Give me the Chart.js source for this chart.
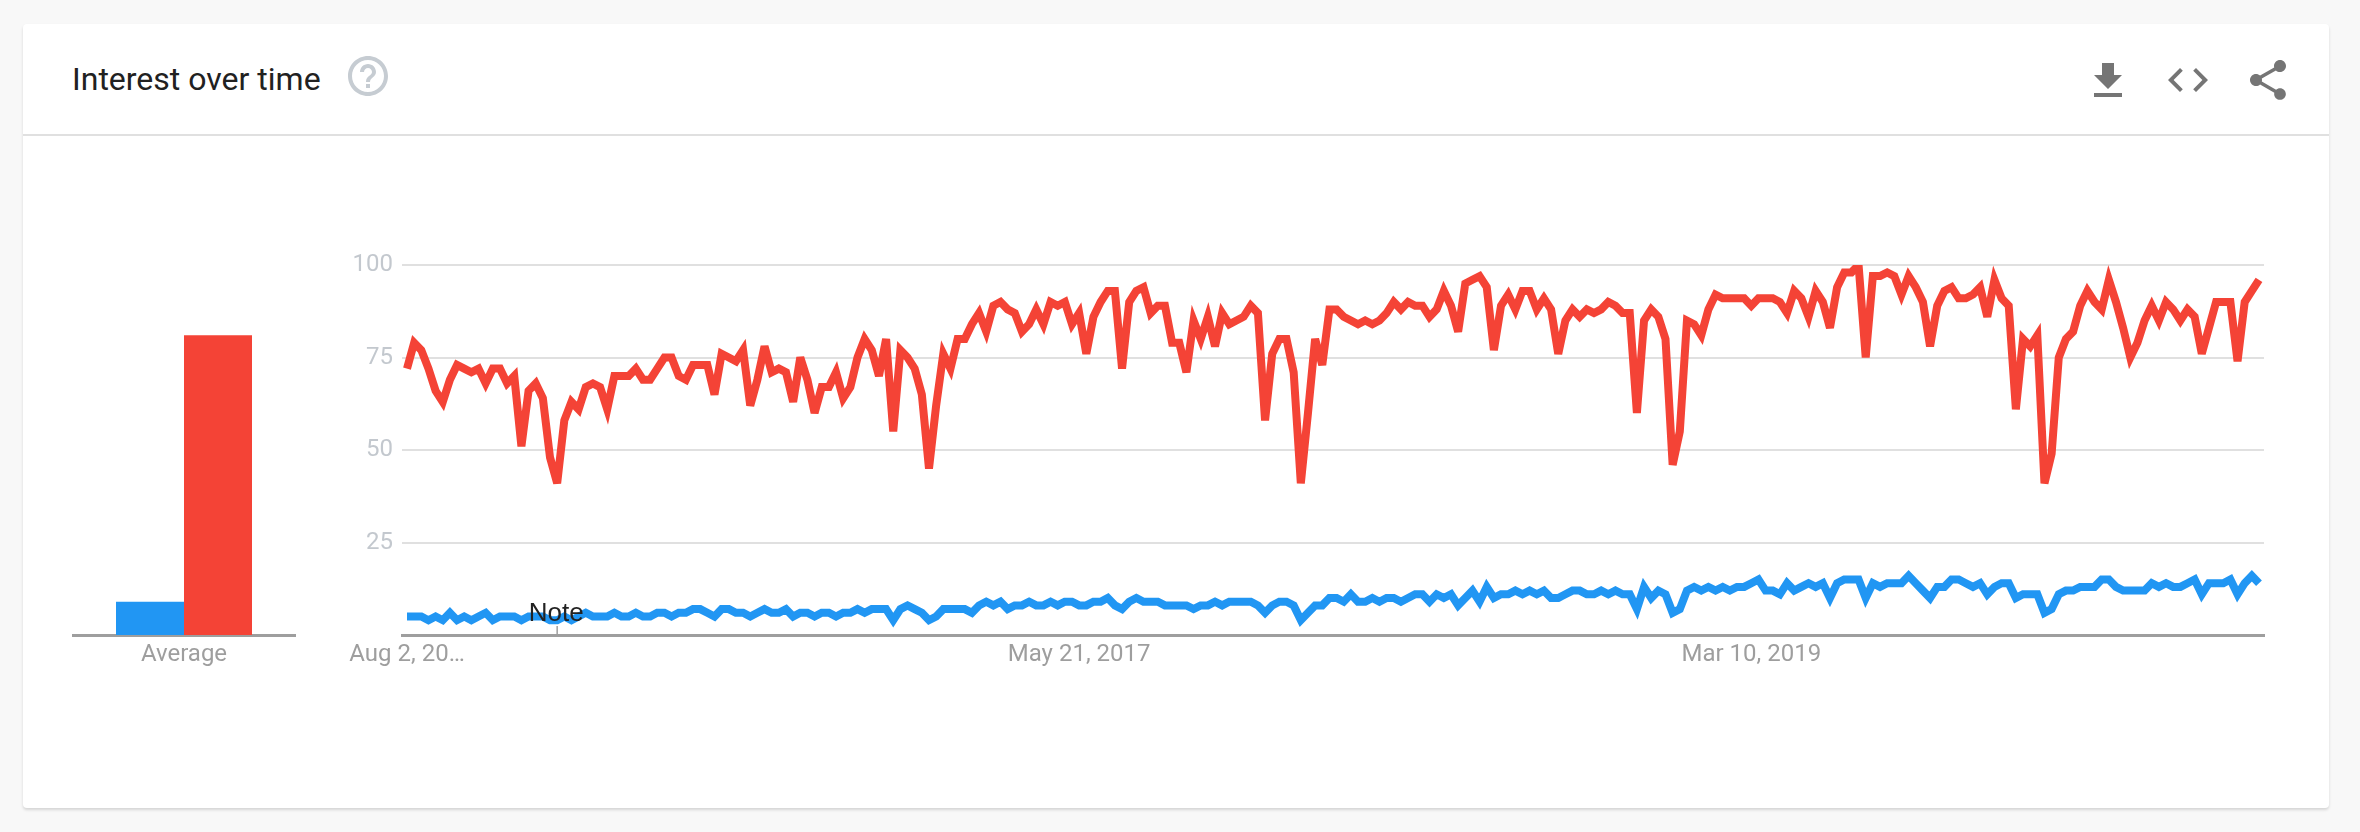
<!DOCTYPE html>
<html><head><meta charset="utf-8">
<style>
html,body{margin:0;padding:0;width:2360px;height:832px;overflow:hidden;background:#f8f8f8;font-family:Roboto,sans-serif}
#card{position:absolute;left:23px;top:24px;width:2306px;height:784px;background:#fff;border-radius:4px;box-shadow:0 2px 3px rgba(0,0,0,.14)}
#sep{position:absolute;left:23px;top:134px;width:2306px;height:2px;background:#e0e0e0}
#title{position:absolute;left:72px;top:60px;font-size:32px;line-height:38px;color:#212121;white-space:nowrap}
svg{position:absolute;fill:#757575}
#barWrap{position:absolute;left:72px;top:200px;width:224px;height:500px}
#lineWrap{position:absolute;left:300px;top:200px;width:2000px;height:500px}
</style>
<script src="https://cdn.jsdelivr.net/npm/chart.js@4"></script>
</head><body>
<div id="card"></div><div id="sep"></div>
<div id="title">Interest over time</div>
<svg style="left:344px;top:52px;fill:#c6ccd2" width="48" height="48" viewBox="0 0 24 24"><path d="M11 18h2v-2h-2v2zm1-16C6.48 2 2 6.48 2 12s4.48 10 10 10 10-4.48 10-10S17.52 2 12 2zm0 18c-4.41 0-8-3.59-8-8s3.59-8 8-8 8 3.59 8 8-3.59 8-8 8zm0-14c-2.21 0-4 1.79-4 4h2c0-1.1.9-2 2-2s2 .9 2 2c0 2-3 1.75-3 5h2c0-2.25 3-2.5 3-5 0-2.21-1.79-4-4-4z"/></svg>
<svg style="left:2084px;top:57px" width="48" height="48" viewBox="0 0 24 24"><path d="M19 9h-4V3H9v6H5l7 7 7-7zM5 18v2h14v-2H5z"/></svg>
<svg style="left:2164px;top:56px" width="48" height="48" viewBox="0 0 24 24"><path d="M9.4 16.6L4.8 12l4.6-4.6L8 6l-6 6 6 6 1.4-1.4zm5.2 0l4.6-4.6-4.6-4.6L16 6l6 6-6 6-1.4-1.4z"/></svg>
<svg style="left:2244px;top:56px" width="48" height="48" viewBox="0 0 24 24"><path d="M18 16.08c-.76 0-1.44.3-1.96.77L8.91 12.7c.05-.23.09-.46.09-.7s-.04-.47-.09-.7l7.05-4.11c.54.5 1.25.81 2.04.81 1.66 0 3-1.34 3-3s-1.34-3-3-3-3 1.34-3 3c0 .24.04.47.09.7L8.04 9.81C7.5 9.31 6.79 9 6 9c-1.66 0-3 1.34-3 3s1.34 3 3 3c.79 0 1.5-.31 2.04-.81l7.12 4.16c-.05.21-.08.43-.08.65 0 1.61 1.31 2.92 2.92 2.92 1.61 0 2.92-1.31 2.92-2.92s-1.31-2.92-2.92-2.92z"/></svg>
<div id="barWrap"><canvas id="bar"></canvas></div>
<div id="lineWrap"><canvas id="line"></canvas></div>
<script>
const redSeries = [
72,79,77,72,66,63,69,73,72,71,72,68,72,72,68,70,51,66,68,64,48,41,58,63,61,67,68,67,61,70,
70,70,72,69,69,72,75,75,70,69,73,73,73,65,76,75,74,77,62,69,78,71,72,71,63,75,69,60,67,67,
71,64,67,75,80,77,70,80,55,77,75,72,65,45,62,76,72,80,80,84,87,82,89,90,88,87,82,84,88,84,
90,89,90,84,87,76,86,90,93,93,72,90,93,94,87,89,89,79,79,71,85,80,86,78,87,84,85,86,89,87,
58,76,80,80,71,41,60,80,73,88,88,86,85,84,85,84,85,87,90,88,90,89,89,86,88,93,89,82,95,96,
97,94,77,89,92,88,93,93,88,91,88,76,85,88,86,88,87,88,90,89,87,87,60,85,88,86,80,46,55,85,
84,81,88,92,91,91,91,91,89,91,91,91,90,87,93,91,86,93,90,83,94,98,98,100,75,97,97,98,97,92,
97,94,90,78,89,93,94,91,91,92,94,86,96,91,89,61,80,78,81,41,49,75,80,82,89,93,90,88,96,90,
83,75,79,85,89,85,90,88,85,88,86,76,83,90,90,90,74,90,93,96];
const blueSeries = [
5,5,5,4,5,4,6,4,5,4,5,6,4,5,5,5,4,5,5,5,4,4,5,4,5,6,5,5,5,6,
5,5,6,5,5,6,6,5,6,6,7,7,6,5,7,7,6,6,5,6,7,6,6,7,5,6,6,5,6,6,
5,6,6,7,6,7,7,7,4,7,8,7,6,4,5,7,7,7,7,6,8,9,8,9,7,8,8,9,8,8,
9,8,9,9,8,8,9,9,10,8,7,9,10,9,9,9,8,8,8,8,7,8,8,9,8,9,9,9,9,8,
6,8,9,9,8,4,6,8,8,10,10,9,11,9,9,10,9,10,10,9,10,11,11,9,11,10,11,8,10,12,
9,13,10,11,11,12,11,12,11,12,10,10,11,12,12,11,11,12,11,12,11,11,7,13,10,12,11,6,7,12,
13,12,13,12,13,12,13,13,14,15,12,12,11,14,12,13,14,13,14,10,14,15,15,15,10,14,13,14,14,14,
16,14,12,10,13,13,15,15,14,13,14,11,13,14,14,10,11,11,11,6,7,11,12,12,13,13,13,15,15,13,
12,12,12,12,14,13,14,13,13,14,15,11,14,14,14,15,11,14,16,14];
const seriesNames = ["Term 1","Term 2"];
const averages = [9,81];
const avgCategory = ["Average"];
const yTicks = [25,50,75,100];
const xTickWeeks = [0,94,188];
const xTickLabels = ["Aug 2, 20…","May 21, 2017","Mar 10, 2019"];
const noteWeek = 21;
const noteText = "Note";

const BLUE="#2196f3", RED="#f44336", AXIS="#9e9e9e", GRID="#e0e0e0";
Chart.defaults.font.family="Roboto, sans-serif";
Chart.defaults.animation=false;

const fixH=s=>{s.height=65};
new Chart(document.getElementById("bar"),{
  type:"bar",
  data:{labels:avgCategory,datasets:[
    {label:seriesNames[0],data:[averages[0]],backgroundColor:BLUE,borderWidth:0},
    {label:seriesNames[1],data:[averages[1]],backgroundColor:RED,borderWidth:0}]},
  options:{responsive:true,maintainAspectRatio:false,
    layout:{padding:{top:65,left:0,right:0,bottom:0}},
    plugins:{legend:{display:false},tooltip:{enabled:false}},
    datasets:{bar:{categoryPercentage:136/224,barPercentage:1}},
    scales:{
      y:{display:false,min:0,max:100},
      x:{afterFit:fixH,grid:{display:false,drawTicks:false},border:{display:true,color:AXIS,width:3},
         ticks:{color:AXIS,font:{size:24},padding:6,maxRotation:0}}
    }}
});

const noteMark={id:"noteMark",
 beforeDatasetsDraw(c){c.ctx.miterLimit=4},
 afterDatasetsDraw(c){
  const x=c.scales.x.getPixelForValue(noteWeek), b=c.chartArea.bottom, g=c.ctx;
  g.save();
  g.strokeStyle=AXIS;g.lineWidth=1.5;g.beginPath();g.moveTo(x,b-9);g.lineTo(x,b);g.stroke();
  g.fillStyle="#222";g.font="26px 'Liberation Sans', Arial, sans-serif";g.textAlign="center";g.textBaseline="alphabetic";
  g.fillText(noteText,x-1,b-14);
  g.restore();
}};
const toPts=a=>a.map((v,i)=>({x:i,y:v}));
const lineClip={left:20,right:20,top:0,bottom:20};
new Chart(document.getElementById("line"),{
  type:"line",
  plugins:[noteMark],
  data:{datasets:[
    {label:seriesNames[0],data:toPts(blueSeries),borderColor:BLUE,borderWidth:8,pointRadius:0,tension:0,borderJoinStyle:"miter",borderCapStyle:"butt",clip:lineClip},
    {label:seriesNames[1],data:toPts(redSeries),borderColor:RED,borderWidth:8,pointRadius:0,tension:0,borderJoinStyle:"miter",borderCapStyle:"butt",clip:lineClip}]},
  options:{responsive:true,maintainAspectRatio:false,
    layout:{padding:{top:65,left:0,right:36,bottom:0}},
    plugins:{legend:{display:false},tooltip:{enabled:false}},
    scales:{
      y:{min:0,max:100,afterFit:s=>{s.width=102},
         afterBuildTicks:s=>{s.ticks=[{value:0}].concat(yTicks.map(v=>({value:v})))},
         grid:{color:c=>c.tick.value===0?"transparent":GRID,lineWidth:2,drawTicks:false},
         border:{display:false},
         ticks:{color:"#c3c8ce",font:{size:24},padding:9,callback:v=>v===0?"":String(v)}},
      x:{type:"linear",min:-0.7,max:259.7,afterFit:fixH,
         afterBuildTicks:s=>{s.ticks=xTickWeeks.map(v=>({value:v}))},
         grid:{display:false,drawTicks:false},
         border:{display:true,color:AXIS,width:3},
         ticks:{color:AXIS,font:{size:24},padding:6,maxRotation:0,autoSkip:false,
                callback:v=>xTickLabels[xTickWeeks.indexOf(v)]}}
    }}
});
</script>
</body></html>
